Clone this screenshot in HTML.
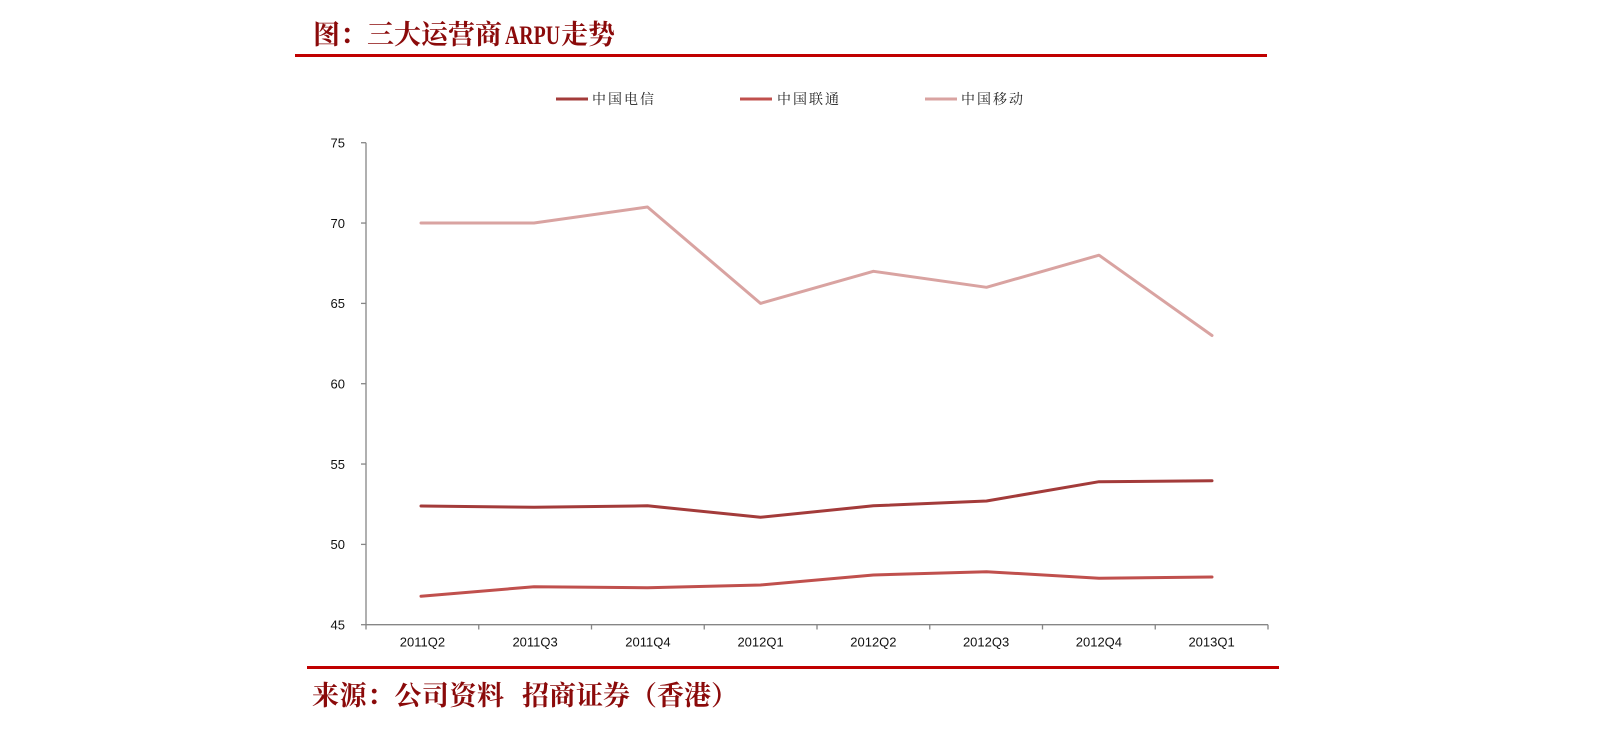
<!DOCTYPE html>
<html><head><meta charset="utf-8"><style>
html,body{margin:0;padding:0;background:#fff;}
body{width:1599px;height:729px;position:relative;overflow:hidden;}
svg{position:absolute;left:0;top:0;}
</style></head><body>
<svg width="1599" height="729" viewBox="0 0 1599 729" xmlns="http://www.w3.org/2000/svg">
<!-- title -->
<g font-family="'Liberation Serif','Noto Serif CJK SC',serif" font-weight="700" fill="#8B0A0A">
<text x="313" y="44" font-size="27" textLength="189" lengthAdjust="spacing">图：三大运营商</text>
<text x="505" y="44" font-size="26" textLength="55" lengthAdjust="spacingAndGlyphs">ARPU</text>
<text x="561" y="44" font-size="27" textLength="54" lengthAdjust="spacing">走势</text>
</g>
<rect x="295" y="54" width="972" height="3" fill="#C00000"/>
<!-- legend -->
<g font-family="'Liberation Serif','Noto Serif CJK SC',serif" font-size="14" fill="#222" letter-spacing="2">
<line x1="556" y1="99" x2="588" y2="99" stroke="#A33B3A" stroke-width="3"/>
<text x="592" y="104">中国电信</text>
<line x1="740" y1="99" x2="772" y2="99" stroke="#C0504D" stroke-width="3"/>
<text x="777" y="104">中国联通</text>
<line x1="925" y1="99" x2="957" y2="99" stroke="#D9A3A1" stroke-width="3"/>
<text x="961" y="104">中国移动</text>
</g>
<!-- axes -->
<g stroke="#868686" stroke-width="1.3" fill="none">
<line x1="366" y1="142.7" x2="366" y2="624.7"/>
<line x1="366" y1="624.7" x2="1268" y2="624.7"/>
<line x1="361" y1="142.7" x2="366" y2="142.7"/>
<line x1="361" y1="223.05" x2="366" y2="223.05"/>
<line x1="361" y1="303.4" x2="366" y2="303.4"/>
<line x1="361" y1="383.7" x2="366" y2="383.7"/>
<line x1="361" y1="464.05" x2="366" y2="464.05"/>
<line x1="361" y1="544.4" x2="366" y2="544.4"/>
<line x1="361" y1="624.7" x2="366" y2="624.7"/>
<line x1="366" y1="624.7" x2="366" y2="629.5"/>
<line x1="478.75" y1="624.7" x2="478.75" y2="629.5"/>
<line x1="591.5" y1="624.7" x2="591.5" y2="629.5"/>
<line x1="704.25" y1="624.7" x2="704.25" y2="629.5"/>
<line x1="817" y1="624.7" x2="817" y2="629.5"/>
<line x1="929.75" y1="624.7" x2="929.75" y2="629.5"/>
<line x1="1042.5" y1="624.7" x2="1042.5" y2="629.5"/>
<line x1="1155.25" y1="624.7" x2="1155.25" y2="629.5"/>
<line x1="1268" y1="624.7" x2="1268" y2="629.5"/>
</g>
<g font-family="'Liberation Sans',Arial,sans-serif" font-size="13" fill="#111" text-anchor="end">
<text x="345" y="147.5">75</text>
<text x="345" y="227.8">70</text>
<text x="345" y="308.2">65</text>
<text x="345" y="388.5">60</text>
<text x="345" y="468.8">55</text>
<text x="345" y="549.2">50</text>
<text x="345" y="629.5">45</text>
</g>
<g font-family="'Liberation Sans',Arial,sans-serif" font-size="13" fill="#111" text-anchor="middle">
<text x="422.4" y="646.5">2011Q2</text>
<text x="535.1" y="646.5">2011Q3</text>
<text x="647.9" y="646.5">2011Q4</text>
<text x="760.6" y="646.5">2012Q1</text>
<text x="873.4" y="646.5">2012Q2</text>
<text x="986.1" y="646.5">2012Q3</text>
<text x="1098.9" y="646.5">2012Q4</text>
<text x="1211.6" y="646.5">2013Q1</text>
</g>
<!-- series -->
<g fill="none" stroke-width="3" stroke-linejoin="round" stroke-linecap="round">
<polyline stroke="#D9A3A1" points="421,223 534,223 647.5,207 760.5,303.4 873.4,271.3 986.5,287.3 1099,255.2 1212,335.5"/>
<polyline stroke="#A33B3A" points="421,506 534,507.3 647.5,505.8 760.5,517.3 873.4,505.8 986.5,501 1099,481.7 1212,480.8"/>
<polyline stroke="#C0504D" points="421,596.3 534,586.7 647.5,587.7 760.5,585 873.4,575 986.5,571.7 1099,578.3 1212,577"/>
</g>
<!-- source -->
<rect x="307" y="666" width="972" height="3" fill="#C00000"/>
<g font-family="'Liberation Serif','Noto Serif CJK SC',serif" font-weight="700" font-size="27" fill="#8B0A0A">
<text x="312" y="705" textLength="192" lengthAdjust="spacing">来源：公司资料</text>
<text x="522" y="705" textLength="216" lengthAdjust="spacing">招商证券（香港）</text>
</g>
</svg>
</body></html>
